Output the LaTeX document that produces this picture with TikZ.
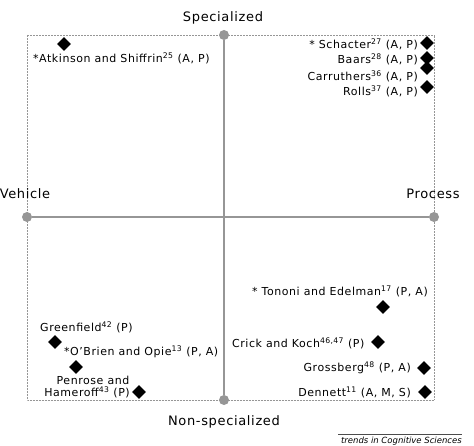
\documentclass[tikz,border=0pt]{standalone}
\usepackage{fontspec}
\setmainfont{DejaVu Sans}[LetterSpace=5]
\newfontfamily\credfont{DejaVu Sans}
\usetikzlibrary{shapes.geometric}
\definecolor{axisgray}{RGB}{150,150,150}
\tikzset{
  pt/.style={diamond, fill=black, inner sep=0pt, minimum size=14pt},
  lab/.style={inner sep=0pt, font=\fontsize{11}{12}\selectfont},
  axlab/.style={inner sep=0pt, font=\fontsize{13}{15}\selectfont},
  endpt/.style={circle, fill=axisgray, inner sep=0pt, minimum size=10pt},
}
\begin{document}
\begin{tikzpicture}[x=1pt,y=-1pt]
\useasboundingbox (0,0) rectangle (474,446);
% frame
\draw[axisgray, densely dotted, line width=0.5pt] (27,35) rectangle (434,400);
% axes
\node[endpt] (top) at (224,35) {};
\node[endpt] (bot) at (224,400) {};
\node[endpt] (left) at (27,217) {};
\node[endpt] (right) at (434,217) {};
\draw[axisgray, line width=1.8pt] (top) -- (bot);
\draw[axisgray, line width=1.8pt] (left) -- (right);
% axis labels
\node[axlab] (spec) at (223,18) {Specialized};
\node[axlab] (nonspec) at (224,422) {Non-specialized};
\node[axlab] (veh) at (25,194) {Vehicle};
\node[axlab] (proc) at (433,194) {Process};
% top left
\node[pt] (d1) at (64,44) {};
\node[lab, anchor=west] (l1) at (33,58) {*Atkinson and Shiffrin\textsuperscript{25} (A, P)};
% top right
\node[pt] (d2) at (427,43) {};
\node[pt] (d3) at (427,58) {};
\node[pt] (d4) at (427,68) {};
\node[pt] (d5) at (427,87) {};
\node[lab, anchor=east] (l2) at (418,44) {* Schacter\textsuperscript{27} (A, P)};
\node[lab, anchor=east] (l3) at (418,59) {Baars\textsuperscript{28} (A, P)};
\node[lab, anchor=east] (l4) at (418,76) {Carruthers\textsuperscript{36} (A, P)};
\node[lab, anchor=east] (l5) at (418,91) {Rolls\textsuperscript{37} (A, P)};
% bottom right
\node[lab, anchor=east] (l6) at (428,291) {* Tononi and Edelman\textsuperscript{17} (P, A)};
\node[pt] (d6) at (383,307) {};
\node[lab, anchor=west] (l7) at (232,343) {Crick and Koch\textsuperscript{46,47} (P)};
\node[pt] (d7) at (378,342) {};
\node[lab, anchor=east] (l8) at (411,368) {Grossberg\textsuperscript{48} (P, A)};
\node[pt] (d8) at (424,368) {};
\node[lab, anchor=east] (l9) at (411,392) {Dennett\textsuperscript{11} (A, M, S)};
\node[pt] (d9) at (425,392) {};
% bottom left
\node[lab, anchor=west] (l10) at (40,327) {Greenfield\textsuperscript{42} (P)};
\node[pt] (d10) at (55,342) {};
\node[lab, anchor=west] (l11) at (64,352) {*O'Brien and Opie\textsuperscript{13} (P, A)};
\node[pt] (d11) at (76,367) {};
\node[lab] (l12a) at (93,380) {Penrose and};
\node[lab, anchor=east] (l12b) at (130,392) {Hameroff\textsuperscript{43} (P)};
\node[pt] (d12) at (139,392) {};
% credit
\draw[black!70, line width=0.4pt] (338,434) -- (462,434);
\node[inner sep=0pt, anchor=east, font=\credfont\fontsize{8.5}{9}\selectfont\itshape] (cred) at (462,441) {trends in Cognitive Sciences};
\end{tikzpicture}
\end{document}
